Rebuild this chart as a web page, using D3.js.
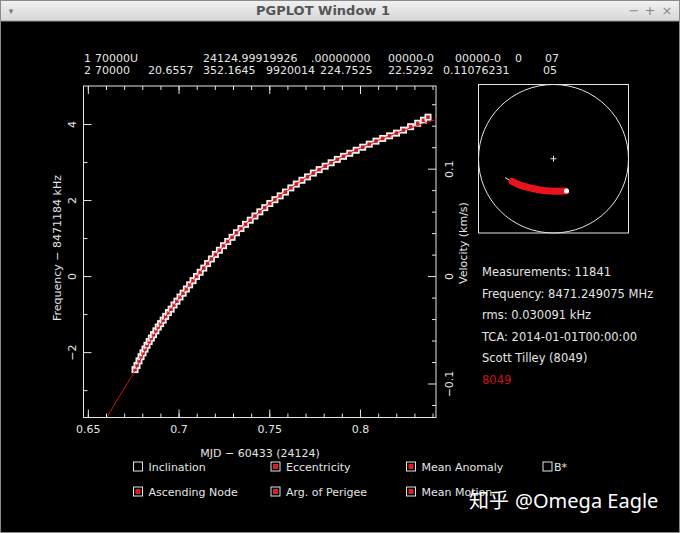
<!DOCTYPE html>
<html>
<head>
<meta charset="utf-8">
<script src="https://cdn.jsdelivr.net/npm/d3@7"></script>
<style>
  body { margin: 0; background: #000; }
  svg { display: block; font-family: "DejaVu Sans", sans-serif; }
</style>
</head>
<body>
<div class="pgplot"></div>
<script>
// Two-line element shown above the plot
const tle1Fields = ["1", "70000U", "24124.99919926", ".00000000", "00000-0", "00000-0", "0", "07"];
const tle2Fields = ["2", "70000", "20.6557", "352.1645", "9920014", "224.7525", "22.5292", "0.11076231", "05"];

// Measured Doppler offsets (MJD - 60433, kHz)
const obsMjd = [0.6760, 0.6771, 0.6782, 0.6793, 0.6804, 0.6815, 0.6826, 0.6838, 0.6850, 0.6862,
  0.6875, 0.6888, 0.6901, 0.6915, 0.6929, 0.6944, 0.6959, 0.6975, 0.6991, 0.7008,
  0.7025, 0.7043, 0.7061, 0.7080, 0.7099, 0.7119, 0.7139, 0.7160, 0.7181, 0.7203,
  0.7225, 0.7248, 0.7271, 0.7295, 0.7319, 0.7344, 0.7369, 0.7395, 0.7421, 0.7448,
  0.7475, 0.7503, 0.7531, 0.7560, 0.7589, 0.7619, 0.7649, 0.7680, 0.7711, 0.7743,
  0.7775, 0.7808, 0.7841, 0.7875, 0.7909, 0.7944, 0.7979, 0.8015, 0.8051, 0.8088,
  0.8125, 0.8163, 0.8201, 0.8240, 0.8279, 0.8318, 0.8350, 0.8375];
const obsFreq = [-2.46, -2.35, -2.23, -2.12, -2.02, -1.92, -1.82, -1.72, -1.63, -1.54,
  -1.44, -1.34, -1.25, -1.16, -1.06, -0.96, -0.87, -0.76, -0.66, -0.55,
  -0.45, -0.34, -0.23, -0.12, -0.01, 0.10, 0.21, 0.33, 0.45, 0.57,
  0.68, 0.80, 0.91, 1.02, 1.14, 1.25, 1.36, 1.47, 1.58, 1.69,
  1.80, 1.91, 2.01, 2.11, 2.21, 2.32, 2.42, 2.52, 2.61, 2.71,
  2.80, 2.89, 2.98, 3.07, 3.15, 3.23, 3.31, 3.39, 3.47, 3.55,
  3.62, 3.69, 3.76, 3.84, 3.93, 4.02, 4.10, 4.18];

// Model curve (red line)
const modelMjd = [0.6605, 0.666, 0.672, 0.676, 0.680, 0.690, 0.700, 0.710, 0.720, 0.730,
  0.740, 0.750, 0.760, 0.770, 0.780, 0.790, 0.800, 0.810, 0.820, 0.830, 0.8419];
const modelFreq = [-3.72, -3.27, -2.80, -2.48, -2.10, -1.28, -0.60, 0.00, 0.55, 1.05,
  1.49, 1.90, 2.25, 2.58, 2.87, 3.13, 3.36, 3.57, 3.76, 3.93, 4.12];

const xMajor = [0.65, 0.7, 0.75, 0.8];
const xMinor = [0.65, 0.66, 0.67, 0.68, 0.69, 0.7, 0.71, 0.72, 0.73, 0.74, 0.75, 0.76, 0.77, 0.78, 0.79, 0.8, 0.81, 0.82, 0.83, 0.84];
const yMajor = [-2, 0, 2, 4];
const yMinor = [-3, -1, 1, 3];
const vMajor = [-0.1, 0, 0.1];
const vMinor = [-0.12, -0.08, -0.06, -0.04, -0.02, 0.02, 0.04, 0.06, 0.08, 0.12, 0.14, 0.16];

// Sky track in the polar plot (unit circle coordinates)
const trackX = [-0.553, -0.447, -0.313, -0.180, -0.047, 0.087, 0.160];
const trackY = [-0.305, -0.355, -0.393, -0.420, -0.435, -0.438, -0.435];
const leadX = [-0.647, -0.553];
const leadY = [-0.255, -0.305];

const infoLines = ["Measurements: 11841", "Frequency: 8471.249075 MHz", "rms: 0.030091 kHz",
  "TCA: 2014-01-01T00:00:00", "Scott Tilley (8049)", "8049"];

const legendLabels = ["Inclination", "Eccentricity", "Mean Anomaly", "B*", "Ascending Node", "Arg. of Perigee", "Mean Motion"];
const legendChecked = [false, true, true, false, true, true, true];

const fg = "#e4e4e4";
const red = "#e8141c";
const W = 680, H = 533;

const svg = d3.select(".pgplot").append("svg").attr("width", W).attr("height", H);
svg.append("rect").attr("width", W).attr("height", H).attr("fill", "#000");

// window title bar
const grad = svg.append("defs").append("linearGradient").attr("id", "tb").attr("x1", 0).attr("x2", 0).attr("y1", 0).attr("y2", 1);
grad.append("stop").attr("offset", "0%").attr("stop-color", "#f2f2f2");
grad.append("stop").attr("offset", "100%").attr("stop-color", "#d6d6d6");
svg.append("rect").attr("width", W).attr("height", 21).attr("fill", "url(#tb)");
svg.append("line").attr("x1", 0).attr("x2", W).attr("y1", 21).attr("y2", 21).attr("stroke", "#9a9a9a");
svg.append("text").attr("x", 323).attr("y", 15).attr("text-anchor", "middle")
  .attr("font-size", 13).attr("font-weight", "bold").attr("fill", "#555").text("PGPLOT Window 1");
svg.append("text").attr("x", 11).attr("y", 14).attr("text-anchor", "middle").attr("font-size", 9).attr("fill", "#777").text("▾");
[["−", 634], ["+", 650], ["×", 667]].forEach(([s, xx]) => {
  svg.append("text").attr("x", xx).attr("y", 15).attr("text-anchor", "middle").attr("font-size", 13).attr("fill", "#888").text(s);
});
svg.append("rect").attr("x", 0.5).attr("y", 0.5).attr("width", W - 1).attr("height", H - 1).attr("fill", "none").attr("stroke", "#8a8a8a");

// TLE text
const tle1X = [84, 95, 203, 311, 388, 455, 515, 545];
const tle2X = [84, 95, 148, 203, 266, 320, 388, 443, 543];
const tle = svg.append("g").attr("font-size", 11).attr("fill", fg);
tle1Fields.forEach((t, i) => tle.append("text").attr("x", tle1X[i]).attr("y", 62).text(t));
tle2Fields.forEach((t, i) => tle.append("text").attr("x", tle2X[i]).attr("y", 74).text(t));

// main plot
const pLeft = 83.5, pRight = 436, pTop = 86, pBottom = 417.5;
const kmsPerKHz = 299792.458 / 8471184;
const x = d3.scaleLinear().domain([0.6476, 0.8419]).range([pLeft, pRight]);
const y = d3.scaleLinear().domain([-3.72, 5.0]).range([pBottom, pTop]);
const v = d3.scaleLinear().domain(y.domain().map(d => d * kmsPerKHz)).range([pBottom, pTop]);

const plot = svg.append("g");
const fmt = d => (d < 0 ? "−" : "") + Math.abs(d);

function styleAxis(g) {
  g.select(".domain").remove();
  g.selectAll("line").attr("stroke", fg);
  g.selectAll("text").attr("fill", fg).attr("font-size", 11).attr("font-family", "DejaVu Sans, sans-serif");
}

plot.append("g").attr("transform", `translate(0,${pBottom})`)
  .call(d3.axisBottom(x).tickValues(xMinor).tickSize(-4).tickFormat("")).call(styleAxis);
plot.append("g").attr("transform", `translate(0,${pBottom})`)
  .call(d3.axisBottom(x).tickValues(xMajor).tickSize(-8).tickPadding(8).tickFormat(d => String(d))).call(styleAxis);
plot.append("g").attr("transform", `translate(0,${pTop})`)
  .call(d3.axisTop(x).tickValues(xMinor).tickSize(-4).tickFormat("")).call(styleAxis);
plot.append("g").attr("transform", `translate(0,${pTop})`)
  .call(d3.axisTop(x).tickValues(xMajor).tickSize(-8).tickFormat("")).call(styleAxis);

plot.append("g").attr("transform", `translate(${pLeft},0)`)
  .call(d3.axisLeft(y).tickValues(yMinor).tickSize(-4).tickFormat("")).call(styleAxis);
const yAx = plot.append("g").attr("transform", `translate(${pLeft},0)`)
  .call(d3.axisLeft(y).tickValues(yMajor).tickSize(-8).tickFormat(fmt)).call(styleAxis);
yAx.selectAll("text").attr("dy", null).attr("text-anchor", "middle")
  .attr("transform", "rotate(-90)").attr("x", 0).attr("y", -8);

plot.append("g").attr("transform", `translate(${pRight},0)`)
  .call(d3.axisRight(v).tickValues(vMinor).tickSize(-4).tickFormat("")).call(styleAxis);
const vAx = plot.append("g").attr("transform", `translate(${pRight},0)`)
  .call(d3.axisRight(v).tickValues(vMajor).tickSize(-8).tickFormat(fmt)).call(styleAxis);
vAx.selectAll("text").attr("dy", null).attr("text-anchor", "middle")
  .attr("transform", "rotate(-90)").attr("x", 0).attr("y", 16.5);

plot.append("rect").attr("x", pLeft).attr("y", pTop).attr("width", pRight - pLeft).attr("height", pBottom - pTop)
  .attr("fill", "none").attr("stroke", fg);

// axis titles
svg.append("text").attr("x", 260).attr("y", 457).attr("text-anchor", "middle").attr("font-size", 11).attr("fill", fg)
  .text("MJD − 60433 (24124)");
svg.append("text").attr("transform", "translate(60.5,248) rotate(-90)").attr("text-anchor", "middle")
  .attr("font-size", 11).attr("fill", fg).text("Frequency − 8471184 kHz");
svg.append("text").attr("transform", "translate(466.5,243) rotate(-90)").attr("text-anchor", "middle")
  .attr("font-size", 11).attr("fill", fg).text("Velocity (km/s)");

// data
svg.append("clipPath").attr("id", "pc").append("rect")
  .attr("x", pLeft).attr("y", pTop).attr("width", pRight - pLeft).attr("height", pBottom - pTop);
const data = obsMjd.map((m, i) => ({ m, f: obsFreq[i] }));
const model = modelMjd.map((m, i) => ({ m, f: modelFreq[i] }));

const inner = plot.append("g").attr("clip-path", "url(#pc)");
const pts = inner.selectAll("g.pt").data(data).enter().append("g").attr("class", "pt")
  .attr("transform", d => `translate(${x(d.m)},${y(d.f)})`);
pts.append("rect").attr("x", -3.5).attr("y", -3.5).attr("width", 7).attr("height", 7).attr("fill", "#f4f4f4");
pts.append("rect").attr("x", -1.8).attr("y", -1.8).attr("width", 3.6).attr("height", 3.6).attr("fill", "#d41c26");
inner.append("path").datum(model)
  .attr("d", d3.line().x(d => x(d.m)).y(d => y(d.f)).curve(d3.curveMonotoneX))
  .attr("fill", "none").attr("stroke", "#c8141a").attr("stroke-width", 1);

// polar plot
const px = d3.scaleLinear().domain([-1, 1]).range([478.5, 628.5]);
const py = d3.scaleLinear().domain([-1, 1]).range([233, 84.5]);
const polar = svg.append("g");
polar.append("rect").attr("x", px(-1)).attr("y", py(1)).attr("width", px(1) - px(-1)).attr("height", py(-1) - py(1))
  .attr("fill", "none").attr("stroke", fg);
polar.append("ellipse").attr("cx", px(0)).attr("cy", py(0)).attr("rx", px(1) - px(0)).attr("ry", py(-1) - py(0))
  .attr("fill", "none").attr("stroke", fg);
polar.append("path").attr("d", `M${px(0) - 3},${py(0)}h6M${px(0)},${py(0) - 3}v6`).attr("stroke", fg);
const track = trackX.map((t, i) => [px(t), py(trackY[i])]);
const lead = leadX.map((t, i) => [px(t), py(leadY[i])]);
polar.append("path").attr("d", d3.line()(lead)).attr("stroke", fg).attr("fill", "none");
polar.append("path").attr("d", d3.line().curve(d3.curveMonotoneX)(track)).attr("stroke", red)
  .attr("stroke-width", 7).attr("stroke-linecap", "round").attr("fill", "none");
polar.append("circle").attr("cx", track[track.length - 1][0] + 1).attr("cy", track[track.length - 1][1])
  .attr("r", 2.5).attr("fill", "#fff");

// info block
svg.append("g").selectAll("text").data(infoLines).enter().append("text")
  .attr("x", 482).attr("y", (d, i) => 276 + i * 21.5)
  .attr("font-size", 11.5).attr("fill", (d, i) => i === infoLines.length - 1 ? "#c8141a" : fg).text(d => d);

// legend
const boxX = [133.5, 271, 406.5, 543];
const rowY = [466.5, 491.5];
const leg = svg.append("g");
legendLabels.forEach((lab, i) => {
  const col = i < 4 ? i : i - 4;
  const row = i < 4 ? 0 : 1;
  const bx = boxX[col], by = rowY[row];
  leg.append("rect").attr("x", bx).attr("y", by - 4.5).attr("width", 9).attr("height", 9)
    .attr("fill", "none").attr("stroke", fg);
  if (legendChecked[i]) {
    leg.append("rect").attr("x", bx + 2).attr("y", by - 2.5).attr("width", 5).attr("height", 5).attr("fill", "#d8202a");
  }
  leg.append("text").attr("x", bx + (lab === "B*" ? 11 : 15)).attr("y", by + 4).attr("font-size", 11).attr("fill", fg).text(lab);
});

// watermark (overlaps the last legend entry, as in the source screenshot)
const wm = svg.append("text").attr("x", 469).attr("y", 508).attr("font-size", 20).attr("fill", "#fff");
wm.append("tspan").attr("font-family", "Noto Sans CJK SC").text("知乎");
wm.append("tspan").attr("font-family", "Noto Sans, sans-serif").attr("dx", 6).text("@Omega Eagle");
</script>
</body>
</html>
